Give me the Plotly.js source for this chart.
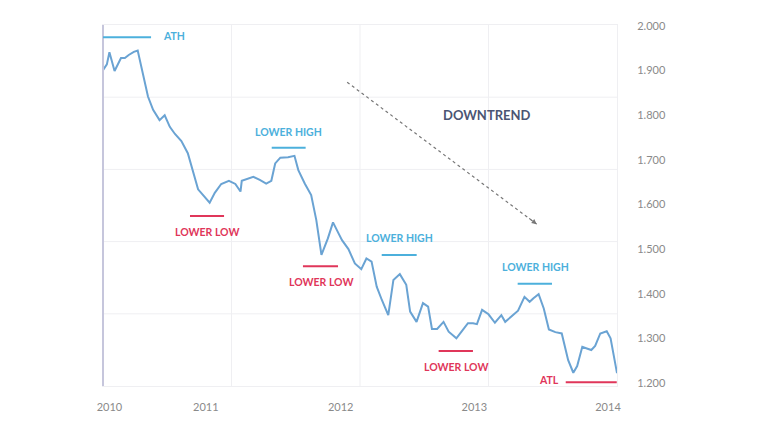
<!DOCTYPE html>
<html>
<head>
<meta charset="utf-8">
<script src="https://cdn.plot.ly/plotly-3.0.1.min.js"></script>
<style>
  html, body { margin: 0; padding: 0; background: #ffffff; }
  #chart { width: 768px; height: 433px; }
</style>
</head>
<body>
<div id="chart"></div>
<script>
// Price series (decimal year, price)
const priceTime = [
    2010.00, 2010.03, 2010.05, 2010.09, 2010.14, 2010.17, 2010.20, 2010.24, 2010.27, 2010.31,
    2010.35, 2010.39, 2010.44, 2010.48, 2010.52, 2010.56, 2010.61, 2010.66, 2010.70, 2010.74,
    2010.83, 2010.87, 2010.92, 2010.98, 2011.03, 2011.07, 2011.08, 2011.17, 2011.22, 2011.27,
    2011.31, 2011.34, 2011.38, 2011.44, 2011.49, 2011.52, 2011.57, 2011.62, 2011.66, 2011.70,
    2011.75, 2011.79, 2011.83, 2011.86, 2011.91, 2011.96, 2012.01, 2012.05, 2012.09, 2012.13,
    2012.17, 2012.22, 2012.26, 2012.31, 2012.36, 2012.39, 2012.44, 2012.49, 2012.53, 2012.56,
    2012.60, 2012.65, 2012.69, 2012.75, 2012.79, 2012.84, 2012.88, 2012.91, 2012.95, 2013.00,
    2013.05, 2013.10, 2013.13, 2013.18, 2013.23, 2013.28, 2013.32, 2013.35, 2013.39, 2013.43,
    2013.47, 2013.52, 2013.57, 2013.62, 2013.66, 2013.69, 2013.73, 2013.76, 2013.80, 2013.83,
    2013.87, 2013.92, 2013.95, 2014.00
];
const priceValue = [
    1.901, 1.914, 1.941, 1.899, 1.928, 1.928, 1.935, 1.942, 1.945, 1.894,
    1.842, 1.812, 1.789, 1.800, 1.774, 1.758, 1.742, 1.715, 1.677, 1.634,
    1.604, 1.626, 1.646, 1.653, 1.646, 1.629, 1.653, 1.662, 1.655, 1.647,
    1.653, 1.692, 1.705, 1.706, 1.709, 1.677, 1.647, 1.621, 1.565, 1.487,
    1.524, 1.560, 1.537, 1.520, 1.500, 1.468, 1.455, 1.479, 1.472, 1.416,
    1.386, 1.352, 1.431, 1.444, 1.420, 1.360, 1.337, 1.379, 1.371, 1.321,
    1.321, 1.337, 1.315, 1.300, 1.315, 1.334, 1.334, 1.332, 1.364, 1.354,
    1.335, 1.352, 1.337, 1.349, 1.362, 1.393, 1.382, 1.390, 1.399, 1.367,
    1.320, 1.314, 1.311, 1.251, 1.223, 1.238, 1.281, 1.278, 1.274, 1.283,
    1.311, 1.316, 1.300, 1.222
];

// Axis ticks
const priceTicks = [1.2, 1.3, 1.4, 1.5, 1.6, 1.7, 1.8, 1.9, 2.0];
const yearLabels = ['2010', '2011', '2012', '2013', '2014'];
const yearLabelPos = [2010.05, 2010.80, 2011.85, 2012.89, 2013.93];
const yearGrid = [2011, 2012, 2013];

// Swing markers: short level line plus caption
const markerText = ['ATH', 'LOWER HIGH', 'LOWER LOW', 'LOWER LOW', 'LOWER HIGH', 'LOWER LOW', 'LOWER HIGH', 'ATL'];
const markerKind = ['high', 'high', 'low', 'low', 'high', 'low', 'high', 'low'];
const markerLevel = [1.975, 1.727, 1.574, 1.4615, 1.487, 1.272, 1.4225, 1.2015];
const markerStart = [2010.00, 2011.313, 2010.677, 2011.556, 2012.169, 2012.612, 2013.227, 2013.601];
const markerEnd = [2010.374, 2011.577, 2010.942, 2011.829, 2012.441, 2012.879, 2013.494, 2013.998];
const captionX = [2010.451, 2011.44, 2010.809, 2011.70, 2012.307, 2012.747, 2013.362, 2013.468];
const captionY = [1.978, 1.763, 1.539, 1.426, 1.526, 1.2365, 1.4606, 1.206];

const HIGH_COLOR = '#4cb0dc';
const LOW_COLOR = '#e0365a';
const LINE_COLOR = '#6aa3d3';
const GRID_COLOR = '#efeff2';

const shapes = [];
const annotations = [];

// Horizontal grid (evenly split, not tied to price ticks)
[0.2, 0.4, 0.6, 0.8].forEach(function(f) {
    shapes.push({
        type: 'line', xref: 'paper', yref: 'paper', x0: 0, x1: 1, y0: f, y1: f,
        line: { color: GRID_COLOR, width: 1 }, layer: 'below'
    });
});
yearGrid.forEach(function(yr) {
    shapes.push({
        type: 'line', xref: 'x', yref: 'paper', x0: yr, x1: yr, y0: 0, y1: 1,
        line: { color: GRID_COLOR, width: 1 }, layer: 'below'
    });
});
// Left edge line
shapes.push({
    type: 'line', xref: 'paper', yref: 'paper', x0: 0, x1: 0, y0: 0, y1: 1,
    line: { color: '#c6c6dc', width: 2 }
});

markerText.forEach(function(txt, i) {
    const color = markerKind[i] === 'high' ? HIGH_COLOR : LOW_COLOR;
    shapes.push({
        type: 'line', xref: 'x', yref: 'y',
        x0: markerStart[i], x1: markerEnd[i], y0: markerLevel[i], y1: markerLevel[i],
        line: { color: color, width: 2 }
    });
    annotations.push({
        x: captionX[i], y: captionY[i], xref: 'x', yref: 'y',
        text: '<b>' + txt + '</b>', showarrow: false,
        xanchor: txt === 'ATH' ? 'left' : 'center', yanchor: 'middle',
        font: { family: 'Lato, sans-serif', size: 10.5, color: color }
    });
});

// Trend arrow
const trendFrom = [2011.90, 1.874];
const trendTo = [2013.375, 1.556];
shapes.push({
    type: 'line', xref: 'x', yref: 'y',
    x0: trendFrom[0], y0: trendFrom[1], x1: trendTo[0], y1: trendTo[1],
    line: { color: '#777777', width: 1.2, dash: 'dot' }
});
annotations.push({
    x: trendTo[0], y: trendTo[1], xref: 'x', yref: 'y',
    ax: -9, ay: -7, text: '', showarrow: true,
    arrowhead: 2, arrowsize: 1, arrowwidth: 1, arrowcolor: '#777777'
});
annotations.push({
    x: 2012.992, y: 1.8006, xref: 'x', yref: 'y',
    text: '<b>DOWNTREND</b>', showarrow: false,
    font: { family: 'Lato, sans-serif', size: 13, color: '#4b5573' }
});

const data = [{
    type: 'scatter',
    mode: 'lines',
    x: priceTime,
    y: priceValue,
    line: { color: LINE_COLOR, width: 2 },
    hoverinfo: 'skip'
}];

const layout = {
    width: 768,
    height: 433,
    margin: { t: 25, r: 151, b: 47, l: 103 },
    paper_bgcolor: '#ffffff',
    plot_bgcolor: '#ffffff',
    showlegend: false,
    font: { family: 'Lato, sans-serif', color: '#8a8a8a' },
    xaxis: {
        range: [2010, 2014],
        showgrid: false,
        zeroline: false,
        showline: true,
        mirror: true,
        linecolor: GRID_COLOR,
        tickvals: yearLabelPos,
        ticktext: yearLabels,
        ticks: 'outside',
        ticklen: 11,
        tickcolor: 'rgba(0,0,0,0)',
        tickfont: { family: 'Lato, sans-serif', size: 11, color: '#8a8a8a' }
    },
    yaxis: {
        side: 'right',
        range: [1.1933, 2.0022],
        showgrid: false,
        zeroline: false,
        showline: true,
        mirror: true,
        linecolor: GRID_COLOR,
        tickvals: priceTicks,
        tickformat: '.3f',
        ticks: 'outside',
        ticklen: 17,
        tickcolor: 'rgba(0,0,0,0)',
        tickfont: { family: 'Lato, sans-serif', size: 11, color: '#8a8a8a' }
    },
    shapes: shapes,
    annotations: annotations
};

Plotly.newPlot('chart', data, layout, { displayModeBar: false, staticPlot: true });
</script>
</body>
</html>
